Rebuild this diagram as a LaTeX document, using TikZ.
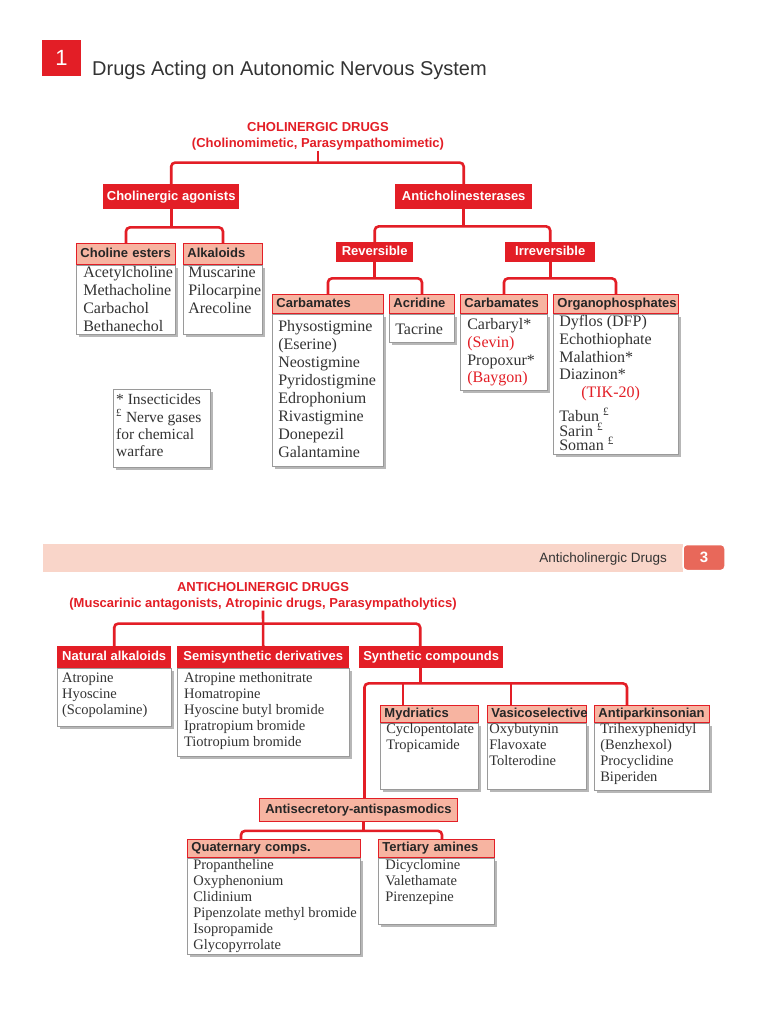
\documentclass[tikz,border=0pt]{standalone}
\usepackage{fontspec}
\setmainfont{Liberation Serif}
\setsansfont{Liberation Sans}
\usepackage{tikz}
\usetikzlibrary{positioning, shadows}

\definecolor{drugred}{HTML}{E31E26}
\definecolor{salmon}{HTML}{F7B4A1}
\definecolor{peach}{HTML}{F9D5C9}
\definecolor{badge}{HTML}{E8685A}
\definecolor{ink}{HTML}{333333}
\definecolor{rim}{HTML}{9A9A9A}

\begin{document}
\begin{tikzpicture}[x=1pt, y=-1pt,
    conn/.style={draw=drugred, line width=2.6pt, rounded corners=4pt},
    heading/.style={font=\sffamily\bfseries\fontsize{13}{16}\selectfont, text=drugred, align=center, inner sep=0pt},
    redbox/.style={fill=drugred, text=white, font=\sffamily\bfseries\fontsize{13}{15}\selectfont,
        inner sep=0pt, text height=9.5pt, text depth=2.5pt, anchor=north west},
    tab/.style={fill=salmon, draw=drugred, line width=0.9pt, text=black!85, font=\sffamily\bfseries\fontsize{13}{15}\selectfont,
        inner xsep=4pt, inner ysep=0pt, text height=9.5pt, text depth=2.5pt, align=left, anchor=north west},
    body/.style={draw=rim, fill=white, line width=0.7pt, inner sep=0pt,
        drop shadow={shadow xshift=2.5pt, shadow yshift=-2.5pt, fill=black!40, opacity=.7}},
    listA/.style={font=\fontsize{16}{18}\selectfont, text=ink, align=left, inner sep=0pt, execute at begin node=\strut},
    listB/.style={font=\fontsize{14.5}{16}\selectfont, text=ink, align=left, inner sep=0pt, execute at begin node=\strut}]

    \useasboundingbox (0,0) rectangle (768,1024);
    \fill[white] (0,0) rectangle (768,1024);

    % page 1
    \node[fill=drugred, text=white, font=\sffamily\fontsize{22}{22}\selectfont, minimum width=39pt, minimum height=36pt, inner sep=0pt] (num) at (61.5,58) {1};
    \node[font=\sffamily\fontsize{20}{24}\selectfont, text=ink, anchor=base west, inner sep=0pt] (ttl) at (92,76) {Drugs Acting on Autonomic Nervous System};

    \node[heading] (cd) at (318,136.5) {CHOLINERGIC DRUGS\\(Cholinomimetic, Parasympathomimetic)};
    \node[redbox, minimum width=136pt, minimum height=25pt] (ca) at (103,184) {Cholinergic agonists};
    \node[redbox, minimum width=137pt, minimum height=25pt] (ac) at (395,184) {Anticholinesterases};
    \node[redbox, minimum width=77pt, minimum height=20pt] (rv) at (336,242) {Reversible};
    \node[redbox, minimum width=90pt, minimum height=20pt] (ir) at (505,242) {Irreversible};

    \node[tab, text width=91pt, minimum height=21pt] (ceh) at (76,243) {Choline esters};
    \node[body, below=0pt of ceh, minimum width=99pt, minimum height=69pt] (ceb) {};
    \node[listA, below right=1.4pt and 7pt of ceb.north west] (cet) {Acetylcholine\\Methacholine\\Carbachol\\Bethanechol};

    \node[tab, text width=71pt, minimum height=21pt] (alh) at (183,243) {Alkaloids};
    \node[body, below=0pt of alh, minimum width=79pt, minimum height=69pt] (alb) {};
    \node[listA, below right=1.4pt and 5pt of alb.north west] (alt) {Muscarine\\Pilocarpine\\Arecoline};

    \node[tab, text width=103pt, minimum height=19pt] (cbh) at (272,294) {Carbamates};
    \node[body, below=0pt of cbh, minimum width=111pt, minimum height=152pt] (cbb) {};
    \node[listA, below right=6.4pt and 6pt of cbb.north west] (cbt) {Physostigmine\\(Eserine)\\Neostigmine\\Pyridostigmine\\Edrophonium\\Rivastigmine\\Donepezil\\Galantamine};

    \node[tab, text width=57pt, minimum height=19pt] (arh) at (389,294) {Acridine};
    \node[body, below=0pt of arh, minimum width=65pt, minimum height=28pt] (arb) {};
    \node[listA, below right=7.4pt and 6pt of arb.north west] (art) {Tacrine};

    \node[tab, text width=79pt, minimum height=19pt] (ch) at (460,294) {Carbamates};
    \node[body, below=0pt of ch, minimum width=87pt, minimum height=76pt] (cb) {};
    \node[listA, font=\fontsize{16}{17.7}\selectfont, below right=4.4pt and 7pt of cb.north west] (ct) {Carbaryl*\\\textcolor{drugred}{(Sevin)}\\Propoxur*\\\textcolor{drugred}{(Baygon)}};

    \node[tab, text width=117pt, minimum height=19pt] (oph) at (553,294) {Organophosphates};
    \node[body, below=0pt of oph, minimum width=125pt, minimum height=140pt] (opb) {};
    \node[listA, font=\fontsize{16}{17.7}\selectfont, below right=1.4pt and 6pt of opb.north west] (opt) {Dyflos (DFP)\\Echothiophate\\Malathion*\\Diazinon*\\\hspace*{22pt}\textcolor{drugred}{(TIK-20)}\\[6.5pt]Tabun \textsuperscript{£}\\[-2.7pt]Sarin \textsuperscript{£}\\[-3.7pt]Soman \textsuperscript{£}};

    \node[body, anchor=north west, minimum width=97pt, minimum height=78pt] (fn) at (113,389) {};
    \node[listA, font=\fontsize{15.5}{17.3}\selectfont, below right=4.9pt and 3pt of fn.north west] (fnt) {* Insecticides\\\textsuperscript{£} Nerve gases\\for chemical\\warfare};

    % page 3
    \node[fill=peach, minimum width=640pt, minimum height=28pt, anchor=north west, inner sep=0pt] (band) at (43,544) {};
    \node[font=\sffamily\fontsize{13.5}{16}\selectfont, text=ink, anchor=base east, inner sep=0pt] (run) at (667,562) {Anticholinergic Drugs};
    \node[fill=badge, draw=white, line width=1.5pt, rounded corners=4pt, minimum width=42pt, minimum height=26pt, inner sep=0pt,
        text=white, font=\sffamily\bfseries\fontsize{15}{15}\selectfont] (pg) at (704,557.5) {3};

    \node[heading] (ad) at (263,596.5) {ANTICHOLINERGIC DRUGS\\(Muscarinic antagonists, Atropinic drugs, Parasympatholytics)};

    \node[redbox, minimum width=114pt, minimum height=22pt] (nah) at (57,646) {Natural alkaloids};
    \node[body, below=0pt of nah, minimum width=114pt, minimum height=58pt] (nab) {};
    \node[listB, below right=4.3pt and 5pt of nab.north west] (nat) {Atropine\\Hyoscine\\(Scopolamine)};

    \node[redbox, minimum width=172pt, minimum height=22pt] (ssh) at (177,646) {Semisynthetic derivatives};
    \node[body, below=0pt of ssh, minimum width=172pt, minimum height=88pt] (ssb) {};
    \node[listB, below right=4.3pt and 7pt of ssb.north west] (sst) {Atropine methonitrate\\Homatropine\\Hyoscine butyl bromide\\Ipratropium bromide\\Tiotropium bromide};

    \node[redbox, minimum width=144pt, minimum height=22pt] (sch) at (359,646) {Synthetic compounds};

    \node[tab, text width=90pt, minimum height=17pt] (mdh) at (380,705) {Mydriatics};
    \node[body, below=0pt of mdh, minimum width=98pt, minimum height=66pt] (mdb) {};
    \node[listB, below right=0.3pt and 6pt of mdb.north west] (mdt2) {Cyclopentolate\\Tropicamide};

    \node[tab, text width=91pt, minimum height=17pt] (vsh) at (487,705) {Vasicoselective};
    \node[body, below=0pt of vsh, minimum width=99pt, minimum height=66pt] (vsb) {};
    \node[listB, below right=0.3pt and 2pt of vsb.north west] (vst2) {Oxybutynin\\Flavoxate\\Tolterodine};

    \node[tab, text width=107pt, minimum height=17pt] (aph) at (594,705) {Antiparkinsonian};
    \node[body, below=0pt of aph, minimum width=115pt, minimum height=67pt] (apb) {};
    \node[listB, below right=0.3pt and 6pt of apb.north west] (apt2) {Trihexyphenidyl\\(Benzhexol)\\Procyclidine\\Biperiden};

    \node[tab, align=center, text width=190pt, minimum height=23pt] (ash) at (259,798) {Antisecretory-antispasmodics};

    \node[tab, text width=165pt, minimum height=18pt] (qch) at (187,839) {Quaternary comps.};
    \node[body, below=0pt of qch, minimum width=173pt, minimum height=96pt] (qcb) {};
    \node[listB, below right=1.3pt and 6pt of qcb.north west] (qct2) {Propantheline\\Oxyphenonium\\Clidinium\\Pipenzolate methyl bromide\\Isopropamide\\Glycopyrrolate};

    \node[tab, text width=108pt, minimum height=18pt] (tah) at (378,839) {Tertiary amines};
    \node[body, below=0pt of tah, minimum width=116pt, minimum height=66pt] (tab) {};
    \node[listB, below right=1.3pt and 7pt of tab.north west] (tat2) {Dicyclomine\\Valethamate\\Pirenzepine};

    % connectors
    \coordinate (j1) at ([yshift=-12pt]cd.south);
    \coordinate (j2) at ([yshift=-18pt]ca.south);
    \coordinate (j3) at ([yshift=-17pt]ac.south);
    \coordinate (j4) at ([yshift=-16pt]rv.south);
    \coordinate (j5) at ([yshift=-16pt]ir.south);
    \draw[conn] (cd.south) -- (j1);
    \draw[conn] (ca.north) |- (j1) -| (ac.north);
    \draw[conn] (ca.south) -- (j2);
    \draw[conn] (ceh.north) |- (j2) -| (alh.north);
    \draw[conn] (ac.south) -- (j3);
    \draw[conn] (rv.north) |- (j3) -| (ir.north);
    \draw[conn] (rv.south) -- (j4);
    \draw[conn] (cbh.north) |- (j4) -| (arh.north);
    \draw[conn] (ir.south) -- (j5);
    \draw[conn] (ch.north) |- (j5) -| (oph.north);

    \coordinate (j6) at ([yshift=-13pt]ad.south);
    \coordinate (sct) at ([xshift=-11pt]sch.north);
    \coordinate (scb) at ([xshift=-11pt]sch.south);
    \coordinate (j7) at ([yshift=-15pt]scb);
    \coordinate (ast) at ([xshift=6pt]ash.north);
    \coordinate (asb) at ([xshift=5pt]ash.south);
    \coordinate (j8) at ([yshift=-9pt]asb);
    \coordinate (mdt) at ([xshift=23pt]mdh.north west);
    \coordinate (vst) at ([xshift=24pt]vsh.north west);
    \coordinate (apt) at ([xshift=33pt]aph.north west);
    \coordinate (qct) at ([xshift=54pt]qch.north west);
    \coordinate (tat) at ([xshift=64pt]tah.north west);
    \draw[conn] (ad.south) -- (ssh.north);
    \draw[conn] (nah.north) |- (j6) -| (sct);
    \draw[conn] (scb) -- (j7);
    \draw[conn] (ast) |- (j7) -| (apt);
    \draw[conn] (mdt) -- (mdt |- j7);
    \draw[conn] (vst) -- (vst |- j7);
    \draw[conn] (asb) -- (j8);
    \draw[conn] (qct) |- (j8) -| (tat);
\end{tikzpicture}
\end{document}
